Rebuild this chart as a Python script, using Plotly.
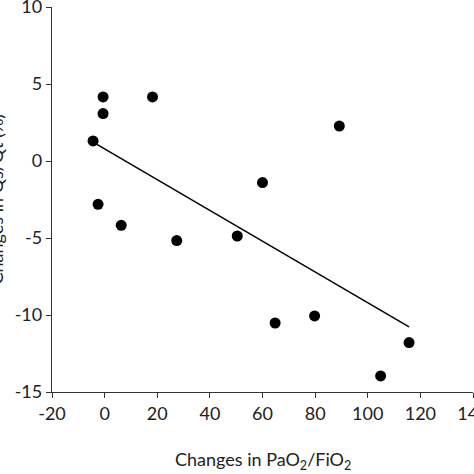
import numpy as np
import plotly.graph_objects as go

# changes in PaO2/FiO2 vs changes in shunt fraction (%)
pf_change = [-4.4, -0.6, -0.6, -2.5, 6.3, 18.2, 27.4, 50.4, 60.0, 89.2, 64.8, 79.8, 115.7, 104.9]
qs_change = [1.30, 4.16, 3.08, -2.81, -4.18, 4.16, -5.17, -4.87, -1.40, 2.27, -10.52, -10.06, -11.79, -13.96]

x_ticks = [-20, 0, 20, 40, 60, 80, 100, 120, 140]
y_ticks = [-15, -10, -5, 0, 5, 10]

# linear trend, drawn across the data range like an Excel trendline
slope, intercept = np.polyfit(pf_change, qs_change, 1)
fit_x = np.array([min(pf_change), max(pf_change)])
fit_y = slope * fit_x + intercept

fig = go.Figure()
fig.add_trace(go.Scatter(
    x=fit_x, y=fit_y, mode='lines',
    line=dict(color='black', width=1.5),
    showlegend=False
))
fig.add_trace(go.Scatter(
    x=pf_change, y=qs_change, mode='markers',
    marker=dict(color='black', size=11),
    showlegend=False
))

axis_style = dict(
    showgrid=False, zeroline=False, automargin=False,
    showline=True, linecolor='#333', linewidth=1.3,
    ticks='outside', tickcolor='#333', ticklen=5, tickwidth=1.3,
    tickfont=dict(family='Lato', size=18, color='#222'),
    ticklabeloverflow='allow'
)

fig.update_xaxes(range=[-20, 140], tickvals=x_ticks,
                 ticktext=[str(v) for v in x_ticks], **axis_style)
fig.update_yaxes(range=[-15, 10], tickvals=y_ticks,
                 ticktext=[str(v) for v in y_ticks], **axis_style)

fig.add_annotation(
    text='Changes in PaO<sub>2</sub>/FiO<sub>2</sub>',
    xref='paper', yref='paper', x=0.5, y=0,
    yanchor='top', yshift=-54, showarrow=False,
    font=dict(family='Lato', size=18, color='#222')
)
# y title sits mostly off the left edge, as in the cropped original
fig.add_annotation(
    text='Changes in Qs/Qt (%)',
    xref='paper', yref='paper', x=0, y=0.5,
    xanchor='right', xshift=-44, textangle=-90, showarrow=False,
    font=dict(family='Lato', size=18, color='#222')
)

fig.update_layout(
    width=474, height=474,
    margin=dict(l=52, r=1, t=7, b=82),
    plot_bgcolor='white',
    paper_bgcolor='white'
)
# drop the default page margin so the figure sits at the window corner
fig.write_html("out.html", config={'displayModeBar': False},
               post_script="document.body.style.margin='0';")
